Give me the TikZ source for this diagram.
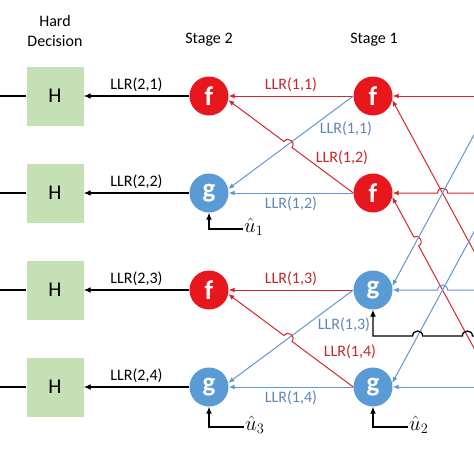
\documentclass[tikz,border=0pt]{standalone}
\usepackage{fontspec}
\setmainfont{Carlito}
\usepackage{amsmath}
\usetikzlibrary{arrows.meta,calc}
\definecolor{fred}{HTML}{E8171E}
\definecolor{gblue}{HTML}{5B9BD5}
\definecolor{redline}{HTML}{D5262C}
\definecolor{blueline}{HTML}{6396CE}
\definecolor{redtext}{HTML}{C4262C}
\definecolor{bluetext}{HTML}{5F86B8}
\definecolor{hgreen}{HTML}{C5E0B4}
\tikzset{
  fnode/.style={circle,fill=fred,text=white,minimum size=39pt,inner sep=0pt,
    font=\fontsize{27}{27}\selectfont\bfseries},
  gnode/.style={fnode,fill=gblue},
  hbox/.style={fill=hgreen,minimum width=57pt,minimum height=59pt,inner sep=0pt,
    font=\fontsize{21}{21}\selectfont},
  lbl/.style={font=\fontsize{16}{20}\selectfont},
  ulbl/.style={font=\fontsize{20}{20}\selectfont,anchor=base west,inner sep=0pt},
  redarr/.style={draw=redline,line width=1pt,-{Latex[length=6pt,width=5pt]}},
  bluearr/.style={draw=blueline,line width=1pt,-{Latex[length=6pt,width=5pt]}},
  blackarr/.style={draw=black,line width=1.3pt,-{Latex[length=7pt,width=6pt]}},
  hop/.style={bend right=90,looseness=1.7},
}
\begin{document}
\begin{tikzpicture}[x=1pt,y=1pt]
\useasboundingbox (0,0) rectangle (474,-474);
\clip (0,0) rectangle (474,-474);
% headings
\node[lbl,align=center] (hd) at (55,-31) {Hard\\Decision};
\node[lbl] (st2) at (209,-40) {Stage 2};
\node[lbl] (st1) at (374,-40) {Stage 1};
% hard decisions
\foreach \r/\y in {1/96,2/193,3/290,4/387}{
  \node[hbox] (h\r) at (55,-\y) {H};
  \coordinate (e\r) at (0,-\y);
  \draw[line width=1.3pt] (h\r.west) -- (e\r);
  \coordinate (s\r) at (495,-\y);
}
% stage 2
\node[fnode] (f21) at (209,-96) {f};
\node[gnode] (g22) at (209,-193) {g};
\node[fnode] (f23) at (209,-290) {f};
\node[gnode] (g24) at (209,-387) {g};
% stage 1
\node[fnode] (f11) at (373,-96) {f};
\node[fnode] (f12) at (373,-193) {f};
\node[gnode] (g13) at (373,-290) {g};
\node[gnode] (g14) at (373,-387) {g};
\foreach \n/\r in {f21/1,g22/2,f23/3,g24/4}
  \draw[blackarr] (\n.west) -- node[lbl,above] {LLR(2,\r)} (h\r.east);
% stage 1 -> stage 2
\coordinate (a11) at (f11.west);
\coordinate (a12) at (f12.west);
\coordinate (a13) at (g13.west);
\coordinate (a14) at (g14.west);
\coordinate (b21) at (f21.-12);
\coordinate (b22) at (g22.12);
\coordinate (b23) at (f23.-12);
\coordinate (b24) at (g24.12);
\coordinate (x12) at (intersection of a12--b21 and a11--b22);
\coordinate (x34) at (intersection of a14--b23 and a13--b24);
\draw[redarr] (a11) -- node[lbl,text=redtext,above] {LLR(1,1)} (f21.east);
\draw[bluearr] (a11) -- (b22);
\draw[redarr] (a12) -- ($(x12)!5pt!(a12)$) to[hop] ($(x12)!5pt!(b21)$) -- (b21);
\draw[bluearr] (a12) -- node[lbl,text=bluetext,below] {LLR(1,2)} (g22.east);
\draw[redarr] (a13) -- node[lbl,text=redtext,above] {LLR(1,3)} (f23.east);
\draw[bluearr] (a13) -- (b24);
\draw[redarr] (a14) -- ($(x34)!5pt!(a14)$) to[hop] ($(x34)!5pt!(b23)$) -- (b23);
\draw[bluearr] (a14) -- node[lbl,text=bluetext,below] {LLR(1,4)} (g24.east);
\node[lbl,text=bluetext] (l11) at (346,-129) {LLR(1,1)};
\node[lbl,text=redtext] (l12) at (342,-158) {LLR(1,2)};
\node[lbl,text=bluetext] (l13) at (344,-325) {LLR(1,3)};
\node[lbl,text=redtext] (l14) at (350,-352) {LLR(1,4)};
% stage 0 -> stage 1
\coordinate (c11) at (f11.-12);
\coordinate (c12) at (f12.-12);
\coordinate (c13) at (g13.12);
\coordinate (c14) at (g14.12);
\coordinate (y2) at (intersection of s2--f12.east and s3--c11);
\coordinate (yb) at (intersection of s4--c12 and s1--c13);
\coordinate (y3) at (intersection of s3--g13.east and s4--c12);
\draw[redarr] (s1) -- (f11.east);
\draw[redarr] (s3) -- (c11);
\draw[redarr] (s2) -- ($(y2)!5pt!(s2)$) to[hop] ($(y2)!5pt!(f12.east)$) -- (f12.east);
\draw[redarr] (s4) -- ($(yb)!5pt!(s4)$) to[hop] ($(yb)!5pt!(c12)$) -- (c12);
\draw[bluearr] (s1) -- (c13);
\draw[bluearr] (s3) -- ($(y3)!5pt!(s3)$) to[hop] ($(y3)!5pt!(g13.east)$) -- (g13.east);
\draw[bluearr] (s2) -- (c14);
\draw[bluearr] (s4) -- (g14.east);
% decisions fed back
\coordinate (k0) at (495,-336);
\coordinate (k1) at (373,-336);
\coordinate (z1) at (intersection of k0--k1 and s4--c12);
\coordinate (z2) at (intersection of k0--k1 and s2--c14);
\draw[blackarr] (k0) -- ($(z1)!5pt!(k0)$) to[hop] ($(z1)!5pt!(k1)$)
  -- ($(z2)!5pt!(k0)$) to[hop] ($(z2)!5pt!(k1)$) -- (k1) -- (g13.south);
\coordinate (u1) at (243,-229);
\coordinate (u2) at (408,-427);
\coordinate (u3) at (244,-427);
\draw[blackarr] (u1) -- (g22.south |- u1) -- (g22.south);
\draw[blackarr] (u2) -- (g14.south |- u2) -- (g14.south);
\draw[blackarr] (u3) -- (g24.south |- u3) -- (g24.south);
\node[ulbl] (t1) at ($(u1)+(1,-3)$) {$\hat{u}_1$};
\node[ulbl] (t2) at ($(u2)+(1,-3)$) {$\hat{u}_2$};
\node[ulbl] (t3) at ($(u3)+(1,-3)$) {$\hat{u}_3$};
\end{tikzpicture}
\end{document}
